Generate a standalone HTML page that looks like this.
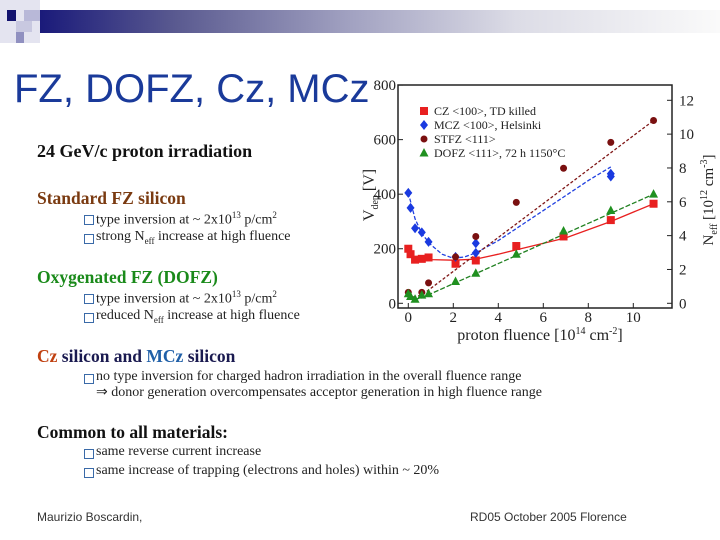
<!DOCTYPE html>
<html><head><meta charset="utf-8">
<style>
body{margin:0;width:720px;height:540px;overflow:hidden;background:#fff;position:relative;font-family:"Liberation Serif",serif;}
.abs{position:absolute;white-space:nowrap;}
.h{font-weight:bold;font-size:17.5px;}
.b{font-size:14px;color:#222;}
.cb{position:absolute;width:8px;height:8px;border:1px solid #3a6aa8;}
</style></head><body>
<div class="abs" style="left:40px;top:10px;width:680px;height:23px;background:linear-gradient(90deg,#1a1a7a 0%,#5a5a90 20%,#a0a0c0 45%,#dcdce6 70%,#fafafa 100%);"></div>
<div class="abs" style="left:0;top:0;width:40px;height:43px;background:#e4e4f0;"></div>
<div class="abs" style="left:7px;top:10px;width:9px;height:11px;background:#12126e;"></div>
<div class="abs" style="left:24px;top:10px;width:16px;height:11px;background:#b8b8d8;"></div>
<div class="abs" style="left:16px;top:21px;width:16px;height:11px;background:#c8c8e0;"></div>
<div class="abs" style="left:16px;top:32px;width:8px;height:11px;background:#9090c0;"></div>
<div class="abs" style="left:14px;top:67px;font-family:'Liberation Sans',sans-serif;font-size:40px;color:#1a3a9a;">FZ, DOFZ, Cz, MCz</div>

<div class="abs h" style="left:37px;top:141px;font-size:18px;color:#111;">24 GeV/c proton irradiation</div>
<div class="abs h" style="left:37px;top:188px;color:#7a3a10;">Standard FZ silicon</div>
<div class="cb" style="left:84px;top:215px"></div>
<div class="abs b" style="left:96px;top:210px;">type inversion at ~ 2x10<sup style="font-size:9px">13</sup> p/cm<sup style="font-size:9px">2</sup></div>
<div class="cb" style="left:84px;top:234px"></div>
<div class="abs b" style="left:96px;top:229px;">strong N<sub style="font-size:9px">eff</sub> increase at high fluence</div>

<div class="abs h" style="left:37px;top:267px;color:#1a8a1a;">Oxygenated FZ (DOFZ)</div>
<div class="cb" style="left:84px;top:294px"></div>
<div class="abs b" style="left:96px;top:289px;">type inversion at ~ 2x10<sup style="font-size:9px">13</sup> p/cm<sup style="font-size:9px">2</sup></div>
<div class="cb" style="left:84px;top:313px"></div>
<div class="abs b" style="left:96px;top:308px;">reduced N<sub style="font-size:9px">eff</sub> increase at high fluence</div>

<div class="abs h" style="left:37px;top:346px;color:#1a1a50;"><span style="color:#c04010">Cz</span> silicon and <span style="color:#2060a8">MCz</span> silicon</div>
<div class="cb" style="left:84px;top:374px"></div>
<div class="abs b" style="left:96px;top:369px;">no type inversion for charged hadron irradiation in the overall fluence range</div>
<div class="abs b" style="left:96px;top:384px;">&rArr; donor generation overcompensates acceptor generation in high fluence range</div>

<div class="abs h" style="left:37px;top:422px;color:#111;">Common to all materials:</div>
<div class="cb" style="left:84px;top:449px"></div>
<div class="abs b" style="left:96px;top:444px;">same reverse current increase</div>
<div class="cb" style="left:84px;top:468px"></div>
<div class="abs b" style="left:96px;top:463px;">same increase of trapping (electrons and holes) within ~ 20%</div>

<div class="abs" style="left:37px;top:510px;font-family:'Liberation Sans',sans-serif;font-size:12px;color:#333;">Maurizio Boscardin,</div>
<div class="abs" style="left:470px;top:510px;font-family:'Liberation Sans',sans-serif;font-size:12px;color:#333;">RD05 October 2005 Florence</div>

<svg id="chart" style="position:absolute;left:0;top:0" width="720" height="540" font-family="Liberation Serif, serif"></svg>
<script>
const xTicks=[0,2,4,6,8,10];
const yTicks=[0,200,400,600,800];
const y2Ticks=[0,2,4,6,8,10,12];
const czX=[0,0.1,0.3,0.6,0.9,2.1,3,4.8,6.9,9,10.9];
const czY=[200,180,160,163,168,145,157,210,245,305,365];
const mczX=[0,0.1,0.3,0.6,0.9,2.1,3,3,9,9];
const mczY=[405,350,275,260,225,170,185,220,465,475];
const stfzX=[0,0.6,0.9,2.1,3,4.8,6.9,9,10.9];
const stfzY=[40,40,75,170,245,370,495,590,670];
const dofzX=[0,0.1,0.3,0.6,0.9,2.1,3,4.8,6.9,9,10.9];
const dofzY=[35,25,15,30,35,80,110,180,265,340,400];
const czFitX=[0,0.3,1,2,3,4,5,7,9,10.9];
const czFitY=[200,165,160,158,162,180,200,240,300,365];
const mczFitX=[0,0.3,0.6,1,1.5,2,2.5,3,4,5,6,7,8,9];
const mczFitY=[405,310,255,215,180,165,170,185,230,285,340,395,450,500];
const stfzFitX=[0,0.6,10.9];
const stfzFitY=[20,30,670];
const dofzFitX=[0,0.3,0.6,1,10.9];
const dofzFitY=[30,15,20,35,400];

const L=398,R=672,T=85,B=308;
const X=v=>408.3+v*22.5, Y=v=>303.3-v*0.2728, Y2=v=>303.3-v*(203/12);
const svg=document.getElementById('chart'), NS='http://www.w3.org/2000/svg';
function mk(tag,at,parent){const e=document.createElementNS(NS,tag);for(const k in at)e.setAttribute(k,at[k]);(parent||svg).appendChild(e);return e;}
const frame=mk('rect',{x:L,y:T,width:R-L,height:B-T,fill:'none',stroke:'#222','stroke-width':1.5});


xTicks.forEach(t=>{mk('line',{x1:X(t),x2:X(t),y1:B,y2:B-5,stroke:'#222'});
 const tx=mk('text',{x:X(t),y:B+14,'font-size':15,'text-anchor':'middle',fill:'#222'});tx.textContent=t;
 
 });
yTicks.forEach(t=>{mk('line',{x1:L,x2:L+5,y1:Y(t),y2:Y(t),stroke:'#222'});
 const tx=mk('text',{x:L-2,y:Y(t)+5,'font-size':15,'text-anchor':'end',fill:'#222'});tx.textContent=t;
 
 });
y2Ticks.forEach(t=>{mk('line',{x1:R,x2:R-5,y1:Y2(t),y2:Y2(t),stroke:'#222'});
 const tx=mk('text',{x:R+7,y:Y2(t)+5,'font-size':15,fill:'#222'});tx.textContent=t;
 
 });
const xt=mk('text',{x:540,y:340,'font-size':16,'text-anchor':'middle',fill:'#222'});
xt.innerHTML='proton fluence [10<tspan dy="-6" font-size="10">14</tspan><tspan dy="6"> cm</tspan><tspan dy="-6" font-size="10">-2</tspan><tspan dy="6">]</tspan>';


const yt=mk('text',{x:0,y:0,'font-size':16,'text-anchor':'middle',fill:'#222',transform:'translate(374,195) rotate(-90)'});
yt.innerHTML='V<tspan dy="4" font-size="10">dep</tspan><tspan dy="-4"> [V]</tspan>';


const y2t=mk('text',{x:0,y:0,'font-size':15,'text-anchor':'middle',fill:'#222',transform:'translate(713,200) rotate(-90)'});
y2t.innerHTML='N<tspan dy="4" font-size="10">eff</tspan><tspan dy="-4"> [10</tspan><tspan dy="-6" font-size="10">12</tspan><tspan dy="6"> cm</tspan><tspan dy="-6" font-size="10">-3</tspan><tspan dy="6">]</tspan>';



function fit(xs,ys,col,dash,name){const p=mk('polyline',{points:xs.map((x,i)=>X(x)+','+Y(ys[i])).join(' '),fill:'none',stroke:col,'stroke-width':1.3,'stroke-dasharray':dash});
 
 }
fit(czFitX,czFitY,'#e82020','','cz-fit-line');
fit(mczFitX,mczFitY,'#2040e0','4,2','mcz-fit-line');
fit(stfzFitX,stfzFitY,'#801818','3,2','stfz-fit-line');
fit(dofzFitX,dofzFitY,'#208020','5,2','dofz-fit-line');

function marker(shape,x,y,col,name){let e;
 if(shape==='sq')e=mk('rect',{x:x-4,y:y-4,width:8,height:8,fill:col});
 else if(shape==='di')e=mk('polygon',{points:`${x},${y-5} ${x+4},${y} ${x},${y+5} ${x-4},${y}`,fill:col});
 else if(shape==='ci')e=mk('circle',{cx:x,cy:y,r:3.5,fill:col});
 else e=mk('polygon',{points:`${x},${y-5} ${x+4.5},${y+3.5} ${x-4.5},${y+3.5}`,fill:col});
 
 }
czX.forEach((x,i)=>marker('sq',X(x),Y(czY[i]),'#e82020','cz-point'));
mczX.forEach((x,i)=>marker('di',X(x),Y(mczY[i]),'#1a3ae0','mcz-point'));
stfzX.forEach((x,i)=>marker('ci',X(x),Y(stfzY[i]),'#7a1010','stfz-point'));
dofzX.forEach((x,i)=>marker('tr',X(x),Y(dofzY[i]),'#209020','dofz-point'));

const leg=[['sq','#e82020','CZ <100>, TD killed'],['di','#1a3ae0','MCZ <100>, Helsinki'],['ci','#7a1010','STFZ <111>'],['tr','#209020','DOFZ <111>, 72 h 1150°C']];
leg.forEach((l,i)=>{const y=111+i*14;marker(l[0],424,y,l[1],'legend-marker');
 const t=mk('text',{x:434,y:y+4,'font-size':12,fill:'#222'});t.textContent=l[2];
 
 });
</script>
</body></html>
